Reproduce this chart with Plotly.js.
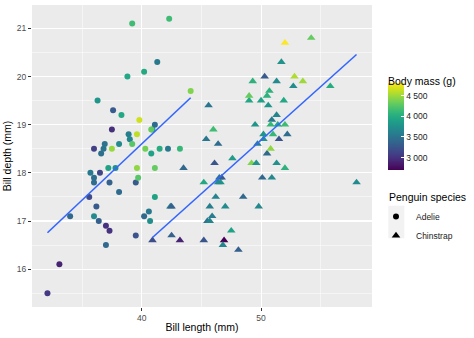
<!DOCTYPE html>
<html>
<head>
<meta charset="utf-8">
<script src="https://cdn.plot.ly/plotly-3.0.1.min.js"></script>
<style>
html,body{margin:0;padding:0;background:#fff;}
#chart{width:474px;height:338px;}
</style>
</head>
<body>
<div id="chart"></div>
<script>
// ---- data (Dream island penguins) ----
const adelieLength = [39.5,37.2,39.5,40.9,36.4,39.2,38.8,42.2,37.6,39.8,36.5,40.8,36.0,44.1,37.0,39.6,41.1,37.5,36.0,42.3,
  37.3,41.3,36.3,36.9,38.3,38.9,35.7,41.1,34.0,39.6,36.2,40.8,38.1,40.3,33.1,43.2,
  37.5,38.1,41.1,35.6,40.2,37.0,39.7,40.2,40.6,32.1,40.7,37.3,39.0,39.2,36.6,36.0,37.8,36.0,41.5,36.8];
const adelieDepth = [16.7,18.1,17.8,18.9,17.0,21.1,20.0,18.5,19.3,19.1,18.0,18.4,18.5,19.7,16.9,18.8,19.0,18.9,17.9,21.2,
  17.8,20.3,19.5,18.6,19.2,18.8,18.0,18.1,17.1,18.1,17.3,18.9,18.6,18.5,16.1,18.5,
  18.5,17.6,17.5,17.5,20.1,16.5,17.9,17.1,17.2,15.5,17.0,16.8,18.7,18.6,18.4,17.8,18.1,17.1,18.5,18.5];
const adelieMass = [3250,3900,3300,3900,3325,4150,3950,3550,3300,4650,3150,3900,3100,4400,3000,4600,3425,2975,3450,4150,
  3350,3550,3800,3500,3950,3600,3550,4300,3400,4450,3300,4300,3700,4350,2900,4100,
  4475,3425,3900,3175,3975,3400,4250,3400,3550,3050,3725,3000,3650,4250,3475,3450,3750,3700,4000,3500];

const chinstrapLength = [46.5,50.0,51.3,45.4,52.7,45.2,46.1,51.3,46.0,51.3,46.6,51.7,47.0,52.0,45.9,50.5,50.3,58.0,46.4,49.2,
  42.4,48.5,43.2,50.6,46.7,52.0,50.5,49.5,46.4,52.8,40.9,54.2,42.5,51.0,49.7,47.5,47.6,52.0,46.9,53.5,
  49.0,46.2,50.9,45.5,50.9,50.8,50.1,49.0,51.5,49.8,48.1,51.4,45.7,50.7,42.5,52.2,45.2,49.3,50.2,45.6,
  51.9,46.8,45.7,55.8,43.5,49.6,50.8,50.2];
const chinstrapDepth = [17.9,19.5,19.2,18.7,19.8,17.8,18.2,18.2,18.9,19.9,17.8,20.3,17.3,18.1,17.1,19.6,20.0,17.8,18.6,18.2,
  17.3,17.5,16.6,19.4,17.9,19.0,18.4,19.0,17.8,20.0,16.6,20.8,16.7,18.8,18.6,16.8,18.3,20.7,16.6,19.9,
  19.5,17.5,19.1,17.0,17.9,18.5,17.9,19.6,18.7,17.3,16.4,19.0,17.3,19.7,17.3,18.8,16.6,19.9,18.8,19.4,
  19.5,16.5,17.0,19.8,18.1,18.2,19.0,18.7];
const chinstrapMass = [3500,3900,3650,3525,3725,3950,3250,3750,4150,3700,3800,3775,3700,4050,3575,4050,3300,3700,3450,4400,
  3600,3400,2900,3800,3300,4150,3400,3800,3700,4550,3200,4300,3350,4100,3600,3900,3850,4800,2700,4500,
  3950,3650,3550,3500,3675,4450,3400,4300,3250,3675,3325,3950,3600,4050,3350,3450,3250,4050,3800,3525,
  3950,3650,3650,4000,3400,3775,4100,3775];

const speciesNames = ["Adelie", "Chinstrap"];
const massTickVals = [3000, 3500, 4000, 4500];
const massTickText = ["3 000", "3 500", "4 000", "4 500"];
const xTitle = "Bill length (mm)";
const yTitle = "Bill depth (mm)";
const colorTitle = "Body mass (g)";
const shapeTitle = "Penguin species";

// ---- helpers ----
function lmLine(xs, ys) {
  const n = xs.length;
  const mx = xs.reduce((a,b)=>a+b,0)/n, my = ys.reduce((a,b)=>a+b,0)/n;
  let sxy=0, sxx=0;
  for (let i=0;i<n;i++){ sxy += (xs[i]-mx)*(ys[i]-my); sxx += (xs[i]-mx)*(xs[i]-mx); }
  const b = sxy/sxx, a = my - b*mx;
  const x0 = Math.min(...xs), x1 = Math.max(...xs);
  const lx = [], ly = [];
  for (let k=0;k<=40;k++){ const x = x0 + (x1-x0)*k/40; lx.push(x); ly.push(a+b*x); }
  return {x: lx, y: ly};
}
function expand(arr){
  const lo=Math.min(...arr), hi=Math.max(...arr), d=(hi-lo)*0.05;
  return [lo-d, hi+d];
}
const allX = adelieLength.concat(chinstrapLength);
const allY = adelieDepth.concat(chinstrapDepth);
const allM = adelieMass.concat(chinstrapMass);

const fitA = lmLine(adelieLength, adelieDepth);
const fitC = lmLine(chinstrapLength, chinstrapDepth);

const W=474, H=338, mL=32, mR=102, mT=5, mB=31;
const pw = W-mL-mR, ph = H-mT-mB;
const px2paper = p => (p-mL)/pw;
const py2paper = p => (H-mB-p)/ph;

const traces = [
  {type:'scatter', mode:'markers', x: adelieLength, y: adelieDepth, showlegend:false,
   marker:{symbol:'circle', size:6, color: adelieMass, coloraxis:'coloraxis', line:{width:0}}},
  {type:'scatter', mode:'markers', x: chinstrapLength, y: chinstrapDepth, showlegend:false,
   marker:{symbol:'triangle-up', size:7.5, color: chinstrapMass, coloraxis:'coloraxis', line:{width:0}}},
  {type:'scatter', mode:'lines', x: fitA.x, y: fitA.y, showlegend:false,
   line:{color:'#3366FF', width:1.6}},
  {type:'scatter', mode:'lines', x: fitC.x, y: fitC.y, showlegend:false,
   line:{color:'#3366FF', width:1.6}},
  {type:'scatter', mode:'markers', x:[null], y:[null], name: speciesNames[0],
   marker:{symbol:'circle', size:6, color:'black'}},
  {type:'scatter', mode:'markers', x:[null], y:[null], name: speciesNames[1],
   marker:{symbol:'triangle-up', size:7.5, color:'black'}}
];

const tickFont = {family:'Liberation Sans, Arial, sans-serif', size:8.5, color:'#4D4D4D'};
const titleFont = {family:'Liberation Sans, Arial, sans-serif', size:10.5, color:'#000000'};

const layout = {
  width: W, height: H,
  margin:{l:mL, r:mR, t:mT, b:mB, pad:0},
  paper_bgcolor:'#FFFFFF', plot_bgcolor:'#EBEBEB',
  font:{family:'Liberation Sans, Arial, sans-serif', color:'#000'},
  xaxis:{range: expand(allX), tick0:0, dtick:10, showgrid:true, gridcolor:'#FFFFFF', gridwidth:1.1,
    minor:{dtick:5, tick0:0, showgrid:true, gridcolor:'#FFFFFF', gridwidth:0.5},
    zeroline:false, showline:false, ticks:'outside', ticklen:3, tickwidth:1, tickcolor:'#333333',
    tickfont: tickFont, automargin:false,
    title:{text:xTitle, font:titleFont, standoff:1}},
  yaxis:{range: expand(allY), tick0:0, dtick:1, showgrid:true, gridcolor:'#FFFFFF', gridwidth:1.1,
    minor:{dtick:0.5, tick0:0, showgrid:true, gridcolor:'#FFFFFF', gridwidth:0.5},
    zeroline:false, showline:false, ticks:'outside', ticklen:3, tickwidth:1, tickcolor:'#333333',
    tickfont: tickFont, automargin:false,
    title:{text:yTitle, font:titleFont, standoff:3}},
  coloraxis:{colorscale:'Viridis', cmin: Math.min(...allM), cmax: Math.max(...allM),
    colorbar:{thickness:16, thicknessmode:'pixels', len:104, lenmode:'pixels',
      x: 388/W, xref:'container', xanchor:'left',
      y: 1-74/H, yref:'container', yanchor:'top',
      xpad:0, ypad:0, outlinewidth:0,
      tickvals: massTickVals, ticktext: massTickText,
      ticks:'inside', ticklen:3, tickwidth:1, tickcolor:'#FFFFFF',
      tickfont:{family:'Liberation Sans, Arial, sans-serif', size:8.5, color:'#1A1A1A'},
      title:{text: colorTitle, side:'top', font:titleFont}}},
  legend:{
    x: 376/W, xref:'container', xanchor:'left',
    y: 1-202/H, yref:'container', yanchor:'top',
    bgcolor:'rgba(0,0,0,0)', borderwidth:0,
    font:{family:'Liberation Sans, Arial, sans-serif', size:8.5, color:'#1A1A1A'},
    itemwidth:30, tracegroupgap:0},
  annotations:[
    {text: shapeTitle, xref:'paper', yref:'paper', x: px2paper(387), y: py2paper(197),
     xanchor:'left', yanchor:'middle', showarrow:false, font:titleFont}
  ],
  shapes:[
    {type:'rect', xref:'paper', yref:'paper', layer:'below',
     x0: px2paper(388.3), x1: px2paper(404.3), y0: py2paper(238.3), y1: py2paper(205.7),
     fillcolor:'#F2F2F2', line:{width:0}}
  ]
};

Plotly.newPlot('chart', traces, layout, {staticPlot:true, displayModeBar:false});
</script>
</body>
</html>
